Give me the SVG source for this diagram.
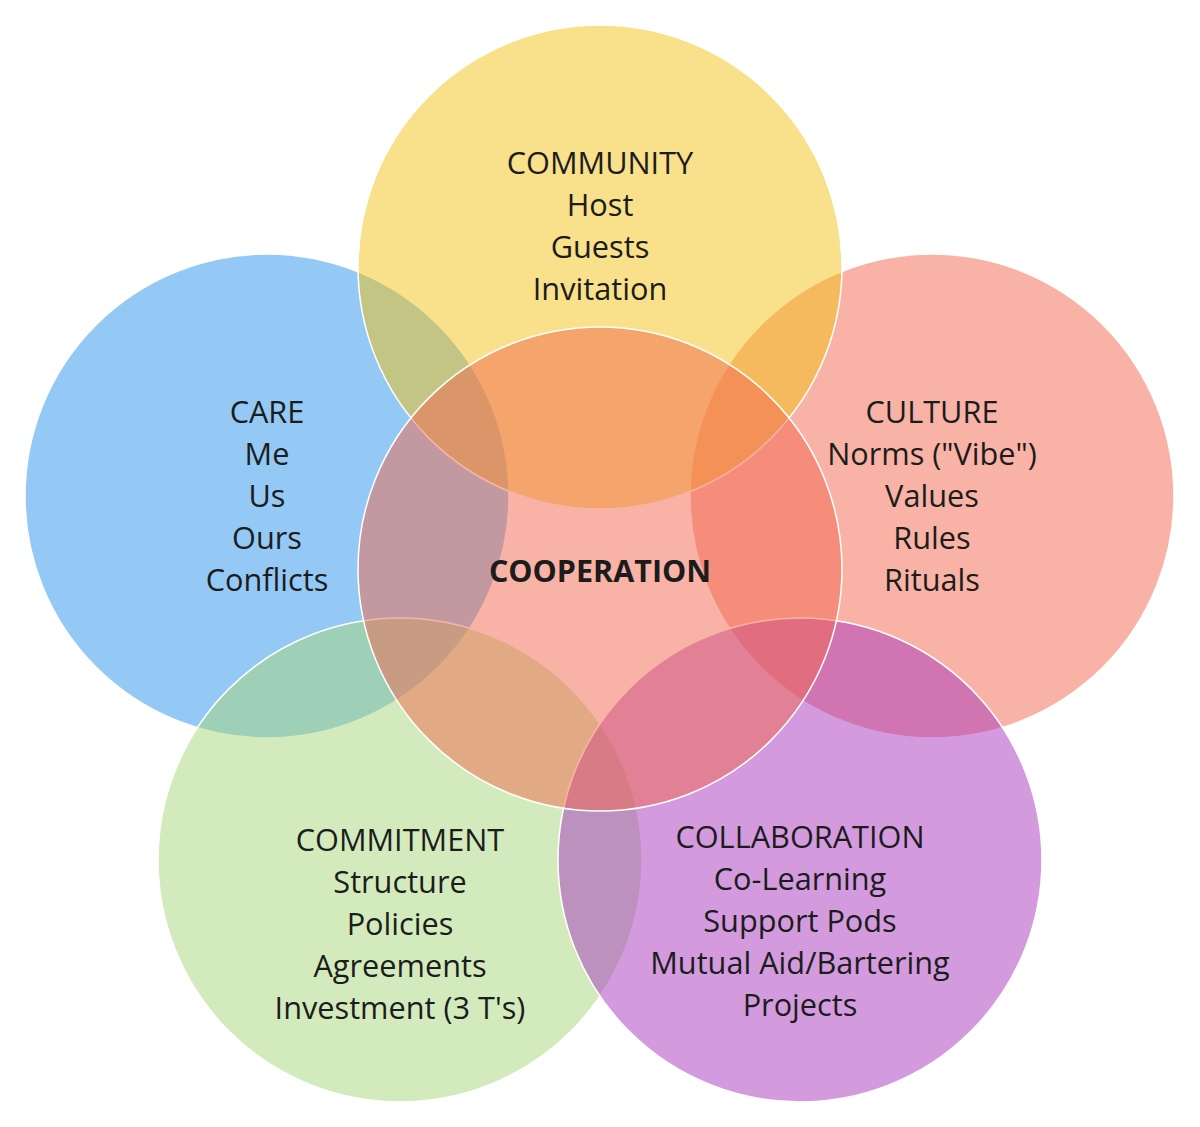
<svg xmlns="http://www.w3.org/2000/svg" width="1200" height="1127" viewBox="0 0 1200 1127">
  <style>
    .c { fill-opacity: 0.5; stroke: #ffffff; stroke-width: 1.5; }
    .t { font-family: "Open Sans", "Noto Sans", "Liberation Sans", sans-serif; font-size: 30.7px; fill: #1c1c1c; text-anchor: middle; }
    .b { font-weight: bold; font-size: 30.5px; }
  </style>
  <rect width="1200" height="1127" fill="#ffffff"/>
  <g id="care">
    <circle class="c" cx="267" cy="496" r="242" fill="#2793e9"/>
    <text class="t" x="267" y="423">CARE</text>
    <text class="t" x="267" y="465">Me</text>
    <text class="t" x="267" y="507">Us</text>
    <text class="t" x="267" y="549">Ours</text>
    <text class="t" x="267" y="591">Conflicts</text>
  </g>
  <g id="culture">
    <circle class="c" cx="932" cy="496" r="242" fill="#f1674d"/>
    <text class="t" x="932" y="423">CULTURE</text>
    <text class="t" x="932" y="465">Norms ("Vibe")</text>
    <text class="t" x="932" y="507">Values</text>
    <text class="t" x="932" y="549">Rules</text>
    <text class="t" x="932" y="591">Rituals</text>
  </g>
  <g id="commitment">
    <circle class="c" cx="400" cy="860" r="242" fill="#a7d779"/>
    <text class="t" x="400" y="851">COMMITMENT</text>
    <text class="t" x="400" y="893">Structure</text>
    <text class="t" x="400" y="935">Policies</text>
    <text class="t" x="400" y="977">Agreements</text>
    <text class="t" x="400" y="1019">Investment (3 T's)</text>
  </g>
  <g id="collaboration">
    <circle class="c" cx="800" cy="860" r="242" fill="#a737bd"/>
    <text class="t" x="800" y="848">COLLABORATION</text>
    <text class="t" x="800" y="890">Co-Learning</text>
    <text class="t" x="800" y="932">Support Pods</text>
    <text class="t" x="800" y="974">Mutual Aid/Bartering</text>
    <text class="t" x="800" y="1016">Projects</text>
  </g>
  <g id="community">
    <circle class="c" cx="600" cy="267" r="242" fill="#f3c115"/>
    <text class="t" x="600" y="174">COMMUNITY</text>
    <text class="t" x="600" y="216">Host</text>
    <text class="t" x="600" y="258">Guests</text>
    <text class="t" x="600" y="300">Invitation</text>
  </g>
  <g id="cooperation">
    <circle class="c" cx="600" cy="569" r="242" fill="#f1674d"/>
    <text class="t b" x="600" y="582">COOPERATION</text>
  </g>
  <g id="connectors"></g>
</svg>
